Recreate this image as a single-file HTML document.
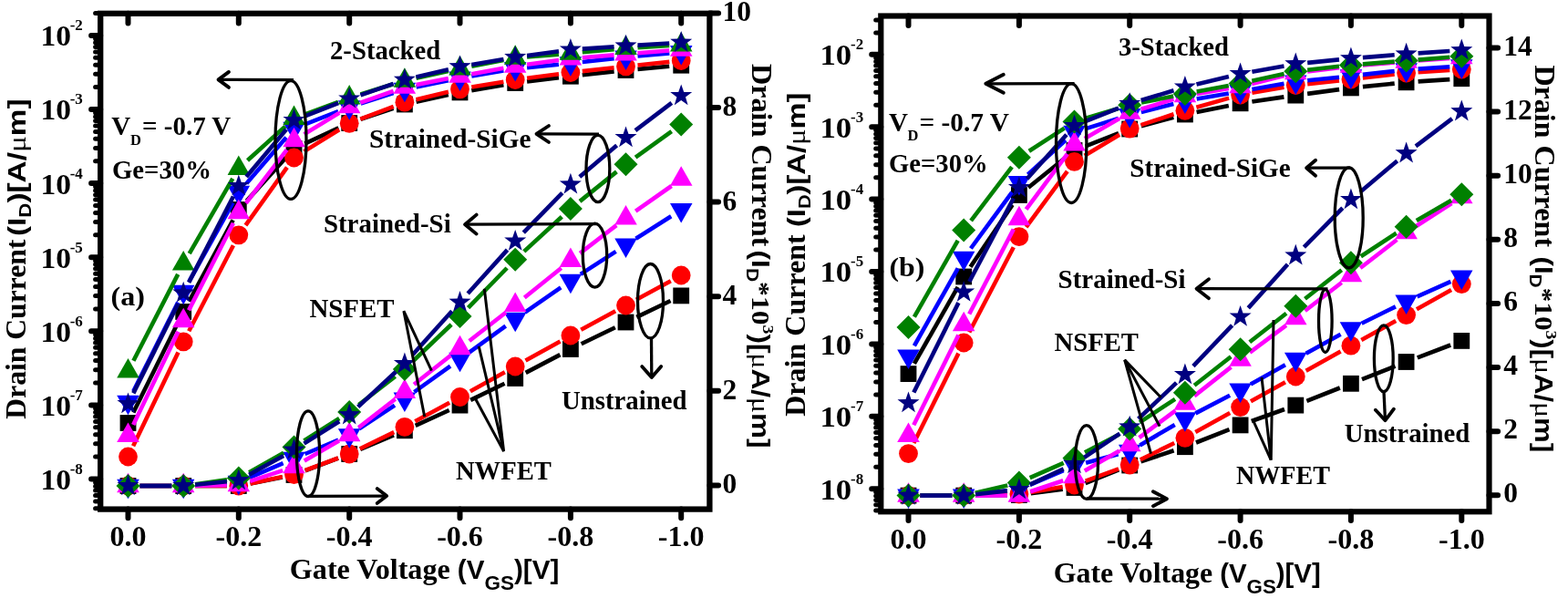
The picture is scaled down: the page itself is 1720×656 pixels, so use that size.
<!DOCTYPE html>
<html><head><meta charset="utf-8"><style>
html,body{margin:0;padding:0;background:#fff;}
svg{display:block;}
</style></head><body>
<svg width="1720" height="656" viewBox="0 0 1720 656">
<rect width="1720" height="656" fill="#fff"/>
<line x1="146.3" y1="452.4" x2="195.4" y2="353.6" stroke="#000000" stroke-width="4.6"/>
<line x1="207.4" y1="330.6" x2="255.6" y2="241.4" stroke="#000000" stroke-width="4.6"/>
<line x1="270.6" y1="220.4" x2="313.8" y2="172.6" stroke="#000000" stroke-width="4.6"/>
<line x1="334.3" y1="157.6" x2="371.4" y2="140.4" stroke="#000000" stroke-width="4.6"/>
<line x1="395.5" y1="130.8" x2="431.5" y2="118.7" stroke="#000000" stroke-width="4.6"/>
<line x1="456.6" y1="111.8" x2="491.8" y2="104.1" stroke="#000000" stroke-width="4.6"/>
<line x1="517.3" y1="99.2" x2="552.4" y2="93.2" stroke="#000000" stroke-width="4.6"/>
<line x1="578.1" y1="89.4" x2="613" y2="85.3" stroke="#000000" stroke-width="4.6"/>
<line x1="638.8" y1="82.3" x2="673.6" y2="78.4" stroke="#000000" stroke-width="4.6"/>
<line x1="699.5" y1="75.9" x2="734.2" y2="72.8" stroke="#000000" stroke-width="4.6"/>
<rect x="131.6" y="455.1" width="17.8" height="17.8" fill="#000000"/>
<rect x="192.3" y="333.1" width="17.8" height="17.8" fill="#000000"/>
<rect x="252.9" y="221.1" width="17.8" height="17.8" fill="#000000"/>
<rect x="313.6" y="154.1" width="17.8" height="17.8" fill="#000000"/>
<rect x="374.3" y="126.1" width="17.8" height="17.8" fill="#000000"/>
<rect x="435" y="105.6" width="17.8" height="17.8" fill="#000000"/>
<rect x="495.6" y="92.5" width="17.8" height="17.8" fill="#000000"/>
<rect x="556.3" y="82.1" width="17.8" height="17.8" fill="#000000"/>
<rect x="617" y="74.8" width="17.8" height="17.8" fill="#000000"/>
<rect x="677.6" y="68.1" width="17.8" height="17.8" fill="#000000"/>
<rect x="738.3" y="62.8" width="17.8" height="17.8" fill="#000000"/>
<line x1="146.1" y1="489.3" x2="195.5" y2="386.5" stroke="#ff0000" stroke-width="4.6"/>
<line x1="207.2" y1="363.3" x2="255.9" y2="269.3" stroke="#ff0000" stroke-width="4.6"/>
<line x1="269.4" y1="247.2" x2="314.9" y2="183.6" stroke="#ff0000" stroke-width="4.6"/>
<line x1="333.6" y1="166.1" x2="372.1" y2="142.2" stroke="#ff0000" stroke-width="4.6"/>
<line x1="395.3" y1="130.7" x2="431.7" y2="116.8" stroke="#ff0000" stroke-width="4.6"/>
<line x1="456.5" y1="109.2" x2="491.9" y2="100.8" stroke="#ff0000" stroke-width="4.6"/>
<line x1="517.3" y1="95.6" x2="552.4" y2="89.7" stroke="#ff0000" stroke-width="4.6"/>
<line x1="578.1" y1="85.8" x2="613" y2="81.2" stroke="#ff0000" stroke-width="4.6"/>
<line x1="638.8" y1="78.1" x2="673.6" y2="74.3" stroke="#ff0000" stroke-width="4.6"/>
<line x1="699.5" y1="71.5" x2="734.3" y2="67.9" stroke="#ff0000" stroke-width="4.6"/>
<circle cx="140.5" cy="501" r="10.4" fill="#ff0000"/>
<circle cx="201.2" cy="374.8" r="10.4" fill="#ff0000"/>
<circle cx="261.8" cy="257.8" r="10.4" fill="#ff0000"/>
<circle cx="322.5" cy="173" r="10.4" fill="#ff0000"/>
<circle cx="383.2" cy="135.3" r="10.4" fill="#ff0000"/>
<circle cx="443.9" cy="112.2" r="10.4" fill="#ff0000"/>
<circle cx="504.5" cy="97.8" r="10.4" fill="#ff0000"/>
<circle cx="565.2" cy="87.5" r="10.4" fill="#ff0000"/>
<circle cx="625.9" cy="79.5" r="10.4" fill="#ff0000"/>
<circle cx="686.5" cy="72.9" r="10.4" fill="#ff0000"/>
<circle cx="747.2" cy="66.5" r="10.4" fill="#ff0000"/>
<line x1="146.3" y1="429.4" x2="195.3" y2="331.6" stroke="#0000ff" stroke-width="4.6"/>
<line x1="207.5" y1="308.6" x2="255.5" y2="222.4" stroke="#0000ff" stroke-width="4.6"/>
<line x1="270.4" y1="201.2" x2="314" y2="150.8" stroke="#0000ff" stroke-width="4.6"/>
<line x1="334.6" y1="136.3" x2="371.1" y2="122.2" stroke="#0000ff" stroke-width="4.6"/>
<line x1="395.6" y1="113.5" x2="431.5" y2="102" stroke="#0000ff" stroke-width="4.6"/>
<line x1="456.6" y1="95.4" x2="491.8" y2="88.3" stroke="#0000ff" stroke-width="4.6"/>
<line x1="517.3" y1="83.5" x2="552.4" y2="77.5" stroke="#0000ff" stroke-width="4.6"/>
<line x1="578.1" y1="74.1" x2="612.9" y2="70.7" stroke="#0000ff" stroke-width="4.6"/>
<line x1="638.8" y1="68" x2="673.6" y2="64.1" stroke="#0000ff" stroke-width="4.6"/>
<line x1="699.5" y1="61.4" x2="734.3" y2="58.4" stroke="#0000ff" stroke-width="4.6"/>
<polygon points="128.2,433.8 152.8,433.8 140.5,455.3" fill="#0000ff"/>
<polygon points="188.9,312.8 213.4,312.8 201.2,334.3" fill="#0000ff"/>
<polygon points="249.6,203.8 274.1,203.8 261.8,225.3" fill="#0000ff"/>
<polygon points="310.3,133.8 334.8,133.8 322.5,155.3" fill="#0000ff"/>
<polygon points="370.9,110.3 395.4,110.3 383.2,131.8" fill="#0000ff"/>
<polygon points="431.6,90.8 456.1,90.8 443.9,112.3" fill="#0000ff"/>
<polygon points="492.3,78.5 516.8,78.5 504.5,100" fill="#0000ff"/>
<polygon points="552.9,68.1 577.4,68.1 565.2,89.6" fill="#0000ff"/>
<polygon points="613.6,62.3 638.1,62.3 625.9,83.8" fill="#0000ff"/>
<polygon points="674.3,55.4 698.8,55.4 686.5,76.9" fill="#0000ff"/>
<polygon points="735,50 759.5,50 747.2,71.5" fill="#0000ff"/>
<line x1="146.2" y1="466" x2="195.5" y2="363.7" stroke="#ff00ff" stroke-width="4.6"/>
<line x1="207.1" y1="340.4" x2="255.9" y2="244.7" stroke="#ff00ff" stroke-width="4.6"/>
<line x1="269.8" y1="222.8" x2="314.6" y2="164.3" stroke="#ff00ff" stroke-width="4.6"/>
<line x1="333.6" y1="147.2" x2="372.1" y2="123.9" stroke="#ff00ff" stroke-width="4.6"/>
<line x1="395.4" y1="112.7" x2="431.6" y2="99.9" stroke="#ff00ff" stroke-width="4.6"/>
<line x1="456.6" y1="93" x2="491.8" y2="86" stroke="#ff00ff" stroke-width="4.6"/>
<line x1="517.3" y1="81.2" x2="552.4" y2="74.8" stroke="#ff00ff" stroke-width="4.6"/>
<line x1="578.1" y1="70.8" x2="613" y2="66" stroke="#ff00ff" stroke-width="4.6"/>
<line x1="638.8" y1="63.2" x2="673.6" y2="60.4" stroke="#ff00ff" stroke-width="4.6"/>
<line x1="699.5" y1="58.3" x2="734.2" y2="55.5" stroke="#ff00ff" stroke-width="4.6"/>
<polygon points="140.5,463.4 152.8,484.9 128.2,484.9" fill="#ff00ff"/>
<polygon points="201.2,337.7 213.4,359.2 188.9,359.2" fill="#ff00ff"/>
<polygon points="261.8,218.8 274.1,240.3 249.6,240.3" fill="#ff00ff"/>
<polygon points="322.5,139.7 334.8,161.2 310.3,161.2" fill="#ff00ff"/>
<polygon points="383.2,102.8 395.4,124.3 370.9,124.3" fill="#ff00ff"/>
<polygon points="443.9,81.2 456.1,102.7 431.6,102.7" fill="#ff00ff"/>
<polygon points="504.5,69.2 516.8,90.7 492.3,90.7" fill="#ff00ff"/>
<polygon points="565.2,58.2 577.4,79.7 552.9,79.7" fill="#ff00ff"/>
<polygon points="625.9,50 638.1,71.5 613.6,71.5" fill="#ff00ff"/>
<polygon points="686.5,45 698.8,66.5 674.3,66.5" fill="#ff00ff"/>
<polygon points="747.2,40.2 759.5,61.7 735,61.7" fill="#ff00ff"/>
<line x1="146.4" y1="395.8" x2="195.2" y2="300.9" stroke="#008000" stroke-width="4.6"/>
<line x1="207.7" y1="278.1" x2="255.3" y2="195.9" stroke="#008000" stroke-width="4.6"/>
<line x1="271.5" y1="176" x2="312.9" y2="138.6" stroke="#008000" stroke-width="4.6"/>
<line x1="334.7" y1="125.4" x2="371" y2="111.8" stroke="#008000" stroke-width="4.6"/>
<line x1="395.6" y1="103.5" x2="431.4" y2="92.3" stroke="#008000" stroke-width="4.6"/>
<line x1="456.5" y1="85.7" x2="491.8" y2="78" stroke="#008000" stroke-width="4.6"/>
<line x1="517.3" y1="72.8" x2="552.4" y2="66" stroke="#008000" stroke-width="4.6"/>
<line x1="578.1" y1="62.5" x2="612.9" y2="59.6" stroke="#008000" stroke-width="4.6"/>
<line x1="638.8" y1="57.3" x2="673.6" y2="54.1" stroke="#008000" stroke-width="4.6"/>
<line x1="699.5" y1="52.1" x2="734.2" y2="50" stroke="#008000" stroke-width="4.6"/>
<polygon points="140.5,393.1 152.8,414.6 128.2,414.6" fill="#008000"/>
<polygon points="201.2,275 213.4,296.5 188.9,296.5" fill="#008000"/>
<polygon points="261.8,170.4 274.1,191.9 249.6,191.9" fill="#008000"/>
<polygon points="322.5,115.6 334.8,137.1 310.3,137.1" fill="#008000"/>
<polygon points="383.2,93 395.4,114.5 370.9,114.5" fill="#008000"/>
<polygon points="443.9,74.2 456.1,95.7 431.6,95.7" fill="#008000"/>
<polygon points="504.5,60.9 516.8,82.4 492.3,82.4" fill="#008000"/>
<polygon points="565.2,49.3 577.4,70.8 552.9,70.8" fill="#008000"/>
<polygon points="625.9,44.2 638.1,65.7 613.6,65.7" fill="#008000"/>
<polygon points="686.5,38.6 698.8,60.1 674.3,60.1" fill="#008000"/>
<polygon points="747.2,34.9 759.5,56.4 735,56.4" fill="#008000"/>
<line x1="146.3" y1="431.4" x2="195.4" y2="333" stroke="#000080" stroke-width="4.6"/>
<line x1="207.1" y1="309.9" x2="255.9" y2="215.5" stroke="#000080" stroke-width="4.6"/>
<line x1="270.2" y1="194.1" x2="314.1" y2="141.9" stroke="#000080" stroke-width="4.6"/>
<line x1="334.6" y1="127.3" x2="371.1" y2="113.2" stroke="#000080" stroke-width="4.6"/>
<line x1="395.5" y1="104.3" x2="431.6" y2="91.8" stroke="#000080" stroke-width="4.6"/>
<line x1="456.5" y1="84.6" x2="491.9" y2="76.2" stroke="#000080" stroke-width="4.6"/>
<line x1="517.3" y1="71" x2="552.4" y2="65.1" stroke="#000080" stroke-width="4.6"/>
<line x1="578.1" y1="61.1" x2="613" y2="56.3" stroke="#000080" stroke-width="4.6"/>
<line x1="638.8" y1="53.6" x2="673.6" y2="51.3" stroke="#000080" stroke-width="4.6"/>
<line x1="699.5" y1="49.6" x2="734.2" y2="47.5" stroke="#000080" stroke-width="4.6"/>
<polygon points="140.5,430.4 143.5,438.9 152.5,439.1 145.3,444.6 147.9,453.2 140.5,448 133.1,453.2 135.7,444.6 128.5,439.1 137.5,438.9" fill="#000080"/>
<polygon points="201.2,308.8 204.1,317.3 213.2,317.5 206,323 208.6,331.6 201.2,326.4 193.8,331.6 196.4,323 189.2,317.5 198.2,317.3" fill="#000080"/>
<polygon points="261.8,191.4 264.8,199.9 273.8,200.1 266.6,205.6 269.2,214.2 261.8,209 254.4,214.2 257,205.6 249.9,200.1 258.9,199.9" fill="#000080"/>
<polygon points="322.5,119.4 325.5,127.9 334.5,128.1 327.3,133.6 329.9,142.2 322.5,137 315.1,142.2 317.7,133.6 310.5,128.1 319.5,127.9" fill="#000080"/>
<polygon points="383.2,95.9 386.1,104.4 395.2,104.6 388,110.1 390.6,118.7 383.2,113.5 375.8,118.7 378.4,110.1 371.2,104.6 380.2,104.4" fill="#000080"/>
<polygon points="443.9,75 446.8,83.5 455.8,83.7 448.6,89.2 451.3,97.8 443.9,92.6 436.4,97.8 439.1,89.2 431.9,83.7 440.9,83.5" fill="#000080"/>
<polygon points="504.5,60.6 507.5,69.1 516.5,69.3 509.3,74.8 511.9,83.4 504.5,78.2 497.1,83.4 499.7,74.8 492.5,69.3 501.6,69.1" fill="#000080"/>
<polygon points="565.2,50.3 568.2,58.8 577.2,59 570,64.5 572.6,73.1 565.2,67.9 557.8,73.1 560.4,64.5 553.2,59 562.2,58.8" fill="#000080"/>
<polygon points="625.9,41.9 628.8,50.4 637.8,50.6 630.7,56.1 633.3,64.7 625.9,59.5 618.5,64.7 621.1,56.1 613.9,50.6 622.9,50.4" fill="#000080"/>
<polygon points="686.5,37.8 689.5,46.3 698.5,46.5 691.3,52 693.9,60.6 686.5,55.4 679.1,60.6 681.7,52 674.5,46.5 683.6,46.3" fill="#000080"/>
<polygon points="747.2,34.1 750.2,42.6 759.2,42.8 752,48.3 754.6,56.9 747.2,51.7 739.8,56.9 742.4,48.3 735.2,42.8 744.2,42.6" fill="#000080"/>
<line x1="153.5" y1="533" x2="188.2" y2="533" stroke="#000000" stroke-width="4.6"/>
<line x1="214.2" y1="533" x2="248.8" y2="533" stroke="#000000" stroke-width="4.6"/>
<line x1="274.6" y1="530.5" x2="309.8" y2="523.5" stroke="#000000" stroke-width="4.6"/>
<line x1="334.7" y1="516.4" x2="371" y2="502.6" stroke="#000000" stroke-width="4.6"/>
<line x1="395.2" y1="492.9" x2="431.9" y2="477.4" stroke="#000000" stroke-width="4.6"/>
<line x1="455.7" y1="466.9" x2="492.7" y2="450" stroke="#000000" stroke-width="4.6"/>
<line x1="516.2" y1="438.9" x2="553.5" y2="420.7" stroke="#000000" stroke-width="4.6"/>
<line x1="576.7" y1="408.9" x2="614.4" y2="389.1" stroke="#000000" stroke-width="4.6"/>
<line x1="637.6" y1="377.3" x2="674.8" y2="359.2" stroke="#000000" stroke-width="4.6"/>
<line x1="698.3" y1="347.9" x2="735.5" y2="330" stroke="#000000" stroke-width="4.6"/>
<rect x="131.6" y="524.1" width="17.8" height="17.8" fill="#000000"/>
<rect x="192.3" y="524.1" width="17.8" height="17.8" fill="#000000"/>
<rect x="252.9" y="524.1" width="17.8" height="17.8" fill="#000000"/>
<rect x="313.6" y="512.1" width="17.8" height="17.8" fill="#000000"/>
<rect x="374.3" y="489.1" width="17.8" height="17.8" fill="#000000"/>
<rect x="435" y="463.4" width="17.8" height="17.8" fill="#000000"/>
<rect x="495.6" y="435.7" width="17.8" height="17.8" fill="#000000"/>
<rect x="556.3" y="406.1" width="17.8" height="17.8" fill="#000000"/>
<rect x="617" y="374.1" width="17.8" height="17.8" fill="#000000"/>
<rect x="677.6" y="344.6" width="17.8" height="17.8" fill="#000000"/>
<rect x="738.3" y="315.5" width="17.8" height="17.8" fill="#000000"/>
<line x1="153.5" y1="533" x2="188.2" y2="533" stroke="#ff0000" stroke-width="4.6"/>
<line x1="214.2" y1="533" x2="248.8" y2="533" stroke="#ff0000" stroke-width="4.6"/>
<line x1="274.6" y1="530.4" x2="309.8" y2="523.1" stroke="#ff0000" stroke-width="4.6"/>
<line x1="334.7" y1="516" x2="371" y2="502.5" stroke="#ff0000" stroke-width="4.6"/>
<line x1="394.9" y1="492.3" x2="432.2" y2="474.1" stroke="#ff0000" stroke-width="4.6"/>
<line x1="455.3" y1="462.2" x2="493.1" y2="441.7" stroke="#ff0000" stroke-width="4.6"/>
<line x1="515.9" y1="429.2" x2="553.8" y2="408.3" stroke="#ff0000" stroke-width="4.6"/>
<line x1="576.5" y1="395.6" x2="614.5" y2="374.4" stroke="#ff0000" stroke-width="4.6"/>
<line x1="637.3" y1="361.8" x2="675.1" y2="341.2" stroke="#ff0000" stroke-width="4.6"/>
<line x1="697.9" y1="328.8" x2="735.8" y2="308.2" stroke="#ff0000" stroke-width="4.6"/>
<circle cx="140.5" cy="533" r="10.4" fill="#ff0000"/>
<circle cx="201.2" cy="533" r="10.4" fill="#ff0000"/>
<circle cx="261.8" cy="533" r="10.4" fill="#ff0000"/>
<circle cx="322.5" cy="520.5" r="10.4" fill="#ff0000"/>
<circle cx="383.2" cy="498" r="10.4" fill="#ff0000"/>
<circle cx="443.9" cy="468.4" r="10.4" fill="#ff0000"/>
<circle cx="504.5" cy="435.5" r="10.4" fill="#ff0000"/>
<circle cx="565.2" cy="402" r="10.4" fill="#ff0000"/>
<circle cx="625.9" cy="368" r="10.4" fill="#ff0000"/>
<circle cx="686.5" cy="335" r="10.4" fill="#ff0000"/>
<circle cx="747.2" cy="302" r="10.4" fill="#ff0000"/>
<line x1="153.5" y1="533" x2="188.2" y2="533" stroke="#0000ff" stroke-width="4.6"/>
<line x1="214.1" y1="532.1" x2="248.9" y2="529.9" stroke="#0000ff" stroke-width="4.6"/>
<line x1="273.8" y1="523.9" x2="310.6" y2="508.1" stroke="#0000ff" stroke-width="4.6"/>
<line x1="334.5" y1="498" x2="371.2" y2="482.5" stroke="#0000ff" stroke-width="4.6"/>
<line x1="394" y1="470.4" x2="433" y2="444.7" stroke="#0000ff" stroke-width="4.6"/>
<line x1="454.4" y1="430" x2="494" y2="401.6" stroke="#0000ff" stroke-width="4.6"/>
<line x1="515" y1="386.4" x2="554.7" y2="357.6" stroke="#0000ff" stroke-width="4.6"/>
<line x1="575.9" y1="342.6" x2="615.2" y2="315.4" stroke="#0000ff" stroke-width="4.6"/>
<line x1="636.8" y1="300.9" x2="675.6" y2="275.9" stroke="#0000ff" stroke-width="4.6"/>
<line x1="697.5" y1="261.8" x2="736.2" y2="237.3" stroke="#0000ff" stroke-width="4.6"/>
<polygon points="128.2,525.8 152.8,525.8 140.5,547.3" fill="#0000ff"/>
<polygon points="188.9,525.8 213.4,525.8 201.2,547.3" fill="#0000ff"/>
<polygon points="249.6,521.8 274.1,521.8 261.8,543.3" fill="#0000ff"/>
<polygon points="310.3,495.8 334.8,495.8 322.5,517.3" fill="#0000ff"/>
<polygon points="370.9,470.3 395.4,470.3 383.2,491.8" fill="#0000ff"/>
<polygon points="431.6,430.4 456.1,430.4 443.9,451.9" fill="#0000ff"/>
<polygon points="492.3,386.8 516.8,386.8 504.5,408.3" fill="#0000ff"/>
<polygon points="552.9,342.8 577.4,342.8 565.2,364.3" fill="#0000ff"/>
<polygon points="613.6,300.8 638.1,300.8 625.9,322.3" fill="#0000ff"/>
<polygon points="674.3,261.6 698.8,261.6 686.5,283.1" fill="#0000ff"/>
<polygon points="735,223.1 759.5,223.1 747.2,244.6" fill="#0000ff"/>
<line x1="153.5" y1="533" x2="188.2" y2="533" stroke="#ff00ff" stroke-width="4.6"/>
<line x1="214.2" y1="532.8" x2="248.8" y2="532.2" stroke="#ff00ff" stroke-width="4.6"/>
<line x1="274.2" y1="527.9" x2="310.2" y2="516.1" stroke="#ff00ff" stroke-width="4.6"/>
<line x1="333.8" y1="505.5" x2="371.9" y2="483.5" stroke="#ff00ff" stroke-width="4.6"/>
<line x1="393.4" y1="469" x2="433.6" y2="437.8" stroke="#ff00ff" stroke-width="4.6"/>
<line x1="454.1" y1="421.8" x2="494.3" y2="390" stroke="#ff00ff" stroke-width="4.6"/>
<line x1="514.8" y1="374" x2="554.9" y2="342.7" stroke="#ff00ff" stroke-width="4.6"/>
<line x1="575.3" y1="326.5" x2="615.7" y2="294" stroke="#ff00ff" stroke-width="4.6"/>
<line x1="636.2" y1="277.9" x2="676.2" y2="247.1" stroke="#ff00ff" stroke-width="4.6"/>
<line x1="697.2" y1="231.7" x2="736.6" y2="204" stroke="#ff00ff" stroke-width="4.6"/>
<polygon points="140.5,518.7 152.8,540.2 128.2,540.2" fill="#ff00ff"/>
<polygon points="201.2,518.7 213.4,540.2 188.9,540.2" fill="#ff00ff"/>
<polygon points="261.8,517.7 274.1,539.2 249.6,539.2" fill="#ff00ff"/>
<polygon points="322.5,497.7 334.8,519.2 310.3,519.2" fill="#ff00ff"/>
<polygon points="383.2,462.7 395.4,484.2 370.9,484.2" fill="#ff00ff"/>
<polygon points="443.9,415.5 456.1,437 431.6,437" fill="#ff00ff"/>
<polygon points="504.5,367.7 516.8,389.2 492.3,389.2" fill="#ff00ff"/>
<polygon points="565.2,320.4 577.4,341.9 552.9,341.9" fill="#ff00ff"/>
<polygon points="625.9,271.5 638.1,293 613.6,293" fill="#ff00ff"/>
<polygon points="686.5,224.9 698.8,246.4 674.3,246.4" fill="#ff00ff"/>
<polygon points="747.2,182.2 759.5,203.7 735,203.7" fill="#ff00ff"/>
<line x1="153.5" y1="533" x2="188.2" y2="533" stroke="#008000" stroke-width="4.6"/>
<line x1="214" y1="531.2" x2="249" y2="526.4" stroke="#008000" stroke-width="4.6"/>
<line x1="273.2" y1="518.2" x2="311.2" y2="496.8" stroke="#008000" stroke-width="4.6"/>
<line x1="333.5" y1="483.4" x2="372.2" y2="459" stroke="#008000" stroke-width="4.6"/>
<line x1="393.5" y1="444" x2="433.6" y2="413" stroke="#008000" stroke-width="4.6"/>
<line x1="453.2" y1="396" x2="495.1" y2="356" stroke="#008000" stroke-width="4.6"/>
<line x1="513.6" y1="337.7" x2="556.1" y2="294" stroke="#008000" stroke-width="4.6"/>
<line x1="574.8" y1="275.9" x2="616.3" y2="237.8" stroke="#008000" stroke-width="4.6"/>
<line x1="636" y1="220.9" x2="676.4" y2="188.4" stroke="#008000" stroke-width="4.6"/>
<line x1="697.1" y1="172.7" x2="736.7" y2="144.1" stroke="#008000" stroke-width="4.6"/>
<polygon points="140.5,520 153.5,533 140.5,546 127.5,533" fill="#008000"/>
<polygon points="201.2,520 214.2,533 201.2,546 188.2,533" fill="#008000"/>
<polygon points="261.8,511.6 274.8,524.6 261.8,537.6 248.8,524.6" fill="#008000"/>
<polygon points="322.5,477.4 335.5,490.4 322.5,503.4 309.5,490.4" fill="#008000"/>
<polygon points="383.2,439 396.2,452 383.2,465 370.2,452" fill="#008000"/>
<polygon points="443.9,392 456.9,405 443.9,418 430.9,405" fill="#008000"/>
<polygon points="504.5,334 517.5,347 504.5,360 491.5,347" fill="#008000"/>
<polygon points="565.2,271.7 578.2,284.7 565.2,297.7 552.2,284.7" fill="#008000"/>
<polygon points="625.9,216 638.9,229 625.9,242 612.9,229" fill="#008000"/>
<polygon points="686.5,167.3 699.5,180.3 686.5,193.3 673.5,180.3" fill="#008000"/>
<polygon points="747.2,123.5 760.2,136.5 747.2,149.5 734.2,136.5" fill="#008000"/>
<line x1="153.5" y1="533" x2="188.2" y2="533" stroke="#000080" stroke-width="4.6"/>
<line x1="214.1" y1="531.7" x2="248.9" y2="528.3" stroke="#000080" stroke-width="4.6"/>
<line x1="273.2" y1="520.7" x2="311.1" y2="499.9" stroke="#000080" stroke-width="4.6"/>
<line x1="333.5" y1="486.6" x2="372.2" y2="462.2" stroke="#000080" stroke-width="4.6"/>
<line x1="392.7" y1="446.4" x2="434.3" y2="407.8" stroke="#000080" stroke-width="4.6"/>
<line x1="452.5" y1="389.3" x2="495.8" y2="341.3" stroke="#000080" stroke-width="4.6"/>
<line x1="513.2" y1="322" x2="556.5" y2="274.1" stroke="#000080" stroke-width="4.6"/>
<line x1="574.3" y1="255.2" x2="616.8" y2="211.6" stroke="#000080" stroke-width="4.6"/>
<line x1="635.8" y1="193.9" x2="676.6" y2="159.4" stroke="#000080" stroke-width="4.6"/>
<line x1="696.9" y1="143.1" x2="736.8" y2="112.9" stroke="#000080" stroke-width="4.6"/>
<polygon points="140.5,520.4 143.5,528.9 152.5,529.1 145.3,534.6 147.9,543.2 140.5,538 133.1,543.2 135.7,534.6 128.5,529.1 137.5,528.9" fill="#000080"/>
<polygon points="201.2,520.4 204.1,528.9 213.2,529.1 206,534.6 208.6,543.2 201.2,538 193.8,543.2 196.4,534.6 189.2,529.1 198.2,528.9" fill="#000080"/>
<polygon points="261.8,514.4 264.8,522.9 273.8,523.1 266.6,528.6 269.2,537.2 261.8,532 254.4,537.2 257,528.6 249.9,523.1 258.9,522.9" fill="#000080"/>
<polygon points="322.5,481 325.5,489.5 334.5,489.7 327.3,495.2 329.9,503.8 322.5,498.6 315.1,503.8 317.7,495.2 310.5,489.7 319.5,489.5" fill="#000080"/>
<polygon points="383.2,442.6 386.1,451.1 395.2,451.3 388,456.8 390.6,465.4 383.2,460.2 375.8,465.4 378.4,456.8 371.2,451.3 380.2,451.1" fill="#000080"/>
<polygon points="443.9,386.4 446.8,394.9 455.8,395.1 448.6,400.6 451.3,409.2 443.9,404 436.4,409.2 439.1,400.6 431.9,395.1 440.9,394.9" fill="#000080"/>
<polygon points="504.5,319 507.5,327.5 516.5,327.7 509.3,333.2 511.9,341.8 504.5,336.6 497.1,341.8 499.7,333.2 492.5,327.7 501.6,327.5" fill="#000080"/>
<polygon points="565.2,251.9 568.2,260.4 577.2,260.6 570,266.1 572.6,274.7 565.2,269.5 557.8,274.7 560.4,266.1 553.2,260.6 562.2,260.4" fill="#000080"/>
<polygon points="625.9,189.7 628.8,198.2 637.8,198.4 630.7,203.9 633.3,212.5 625.9,207.3 618.5,212.5 621.1,203.9 613.9,198.4 622.9,198.2" fill="#000080"/>
<polygon points="686.5,138.4 689.5,146.9 698.5,147.1 691.3,152.6 693.9,161.2 686.5,156 679.1,161.2 681.7,152.6 674.5,147.1 683.6,146.9" fill="#000080"/>
<polygon points="747.2,92.4 750.2,100.9 759.2,101.1 752,106.6 754.6,115.2 747.2,110 739.8,115.2 742.4,106.6 735.2,101.1 744.2,100.9" fill="#000080"/>
<rect x="110.2" y="14.8" width="668.2" height="543.8" fill="none" stroke="#000" stroke-width="6.3"/>
<path d="M140.5,14.8V25.4M140.5,558.6V568.2M261.8,14.8V25.4M261.8,558.6V568.2M383.2,14.8V25.4M383.2,558.6V568.2M504.5,14.8V25.4M504.5,558.6V568.2M625.9,14.8V25.4M625.9,558.6V568.2M747.2,14.8V25.4M747.2,558.6V568.2M110.2,525.5H100.1M110.2,444.4H100.1M110.2,363.3H100.1M110.2,282.2H100.1M110.2,201.1H100.1M110.2,120H100.1M110.2,38.9H100.1M778.5,532.4H788.1M778.5,428.8H788.1M778.5,325.2H788.1M778.5,221.6H788.1M778.5,118H788.1M778.5,14.4H788.1" stroke="#000" stroke-width="6" fill="none" stroke-linecap="round"/>
<path d="M110.2,557.8H104.6M110.2,549.9H104.6M110.2,543.5H104.6M110.2,538.1H104.6M110.2,533.4H104.6M110.2,529.2H104.6M110.2,501.1H104.6M110.2,486.8H104.6M110.2,476.7H104.6M110.2,468.8H104.6M110.2,462.4H104.6M110.2,457H104.6M110.2,452.3H104.6M110.2,448.1H104.6M110.2,420H104.6M110.2,405.7H104.6M110.2,395.6H104.6M110.2,387.7H104.6M110.2,381.3H104.6M110.2,375.9H104.6M110.2,371.2H104.6M110.2,367H104.6M110.2,338.9H104.6M110.2,324.6H104.6M110.2,314.5H104.6M110.2,306.6H104.6M110.2,300.2H104.6M110.2,294.8H104.6M110.2,290.1H104.6M110.2,285.9H104.6M110.2,257.8H104.6M110.2,243.5H104.6M110.2,233.4H104.6M110.2,225.5H104.6M110.2,219.1H104.6M110.2,213.7H104.6M110.2,209H104.6M110.2,204.8H104.6M110.2,176.7H104.6M110.2,162.4H104.6M110.2,152.3H104.6M110.2,144.4H104.6M110.2,138H104.6M110.2,132.6H104.6M110.2,127.9H104.6M110.2,123.7H104.6M110.2,95.6H104.6M110.2,81.3H104.6M110.2,71.2H104.6M110.2,63.3H104.6M110.2,56.9H104.6M110.2,51.5H104.6M110.2,46.8H104.6M110.2,42.6H104.6M110.2,14.5H104.6" stroke="#000" stroke-width="5" fill="none" stroke-linecap="round"/>
<line x1="1002.9" y1="398.8" x2="1050.7" y2="314.8" stroke="#000000" stroke-width="4.6"/>
<line x1="1064.5" y1="292.7" x2="1110.6" y2="224.8" stroke="#000000" stroke-width="4.6"/>
<line x1="1128" y1="205.8" x2="1168.4" y2="173.2" stroke="#000000" stroke-width="4.6"/>
<line x1="1190.7" y1="160.3" x2="1227.1" y2="146.2" stroke="#000000" stroke-width="4.6"/>
<line x1="1251.8" y1="138.2" x2="1287.3" y2="128.8" stroke="#000000" stroke-width="4.6"/>
<line x1="1312.6" y1="122.9" x2="1347.8" y2="115.9" stroke="#000000" stroke-width="4.6"/>
<line x1="1373.4" y1="111.5" x2="1408.4" y2="106.4" stroke="#000000" stroke-width="4.6"/>
<line x1="1434.1" y1="102.9" x2="1469.1" y2="98.1" stroke="#000000" stroke-width="4.6"/>
<line x1="1494.9" y1="95.1" x2="1529.7" y2="91.6" stroke="#000000" stroke-width="4.6"/>
<line x1="1555.6" y1="89.4" x2="1590.3" y2="87.1" stroke="#000000" stroke-width="4.6"/>
<rect x="987.6" y="401.2" width="17.8" height="17.8" fill="#000000"/>
<rect x="1048.3" y="294.6" width="17.8" height="17.8" fill="#000000"/>
<rect x="1109" y="205.1" width="17.8" height="17.8" fill="#000000"/>
<rect x="1169.6" y="156.1" width="17.8" height="17.8" fill="#000000"/>
<rect x="1230.3" y="132.6" width="17.8" height="17.8" fill="#000000"/>
<rect x="1291" y="116.6" width="17.8" height="17.8" fill="#000000"/>
<rect x="1351.7" y="104.4" width="17.8" height="17.8" fill="#000000"/>
<rect x="1412.4" y="95.7" width="17.8" height="17.8" fill="#000000"/>
<rect x="1473" y="87.5" width="17.8" height="17.8" fill="#000000"/>
<rect x="1533.7" y="81.4" width="17.8" height="17.8" fill="#000000"/>
<rect x="1594.4" y="77.3" width="17.8" height="17.8" fill="#000000"/>
<line x1="1002.3" y1="486" x2="1051.4" y2="387.6" stroke="#ff0000" stroke-width="4.6"/>
<line x1="1063.2" y1="364.5" x2="1111.8" y2="271.2" stroke="#ff0000" stroke-width="4.6"/>
<line x1="1125.6" y1="249.2" x2="1170.8" y2="187.9" stroke="#ff0000" stroke-width="4.6"/>
<line x1="1189.7" y1="170.7" x2="1228.1" y2="147.8" stroke="#ff0000" stroke-width="4.6"/>
<line x1="1251.6" y1="137.1" x2="1287.5" y2="125.3" stroke="#ff0000" stroke-width="4.6"/>
<line x1="1312.4" y1="117.7" x2="1348.1" y2="107.6" stroke="#ff0000" stroke-width="4.6"/>
<line x1="1373.4" y1="101.8" x2="1408.5" y2="95.7" stroke="#ff0000" stroke-width="4.6"/>
<line x1="1434.2" y1="92.1" x2="1469" y2="88.4" stroke="#ff0000" stroke-width="4.6"/>
<line x1="1494.9" y1="85.5" x2="1529.7" y2="81.5" stroke="#ff0000" stroke-width="4.6"/>
<line x1="1555.6" y1="79.1" x2="1590.3" y2="76.9" stroke="#ff0000" stroke-width="4.6"/>
<circle cx="996.5" cy="497.6" r="10.4" fill="#ff0000"/>
<circle cx="1057.2" cy="376" r="10.4" fill="#ff0000"/>
<circle cx="1117.9" cy="259.7" r="10.4" fill="#ff0000"/>
<circle cx="1178.5" cy="177.4" r="10.4" fill="#ff0000"/>
<circle cx="1239.2" cy="141.1" r="10.4" fill="#ff0000"/>
<circle cx="1299.9" cy="121.3" r="10.4" fill="#ff0000"/>
<circle cx="1360.6" cy="104" r="10.4" fill="#ff0000"/>
<circle cx="1421.3" cy="93.5" r="10.4" fill="#ff0000"/>
<circle cx="1481.9" cy="87" r="10.4" fill="#ff0000"/>
<circle cx="1542.6" cy="80" r="10.4" fill="#ff0000"/>
<circle cx="1603.3" cy="76" r="10.4" fill="#ff0000"/>
<line x1="1002.9" y1="379.3" x2="1050.8" y2="294.3" stroke="#0000ff" stroke-width="4.6"/>
<line x1="1064.9" y1="272.5" x2="1110.2" y2="210.8" stroke="#0000ff" stroke-width="4.6"/>
<line x1="1127.5" y1="191.5" x2="1168.9" y2="153.8" stroke="#0000ff" stroke-width="4.6"/>
<line x1="1191" y1="141.1" x2="1226.8" y2="130" stroke="#0000ff" stroke-width="4.6"/>
<line x1="1251.8" y1="122.9" x2="1287.3" y2="114" stroke="#0000ff" stroke-width="4.6"/>
<line x1="1312.7" y1="108.6" x2="1347.8" y2="102.4" stroke="#0000ff" stroke-width="4.6"/>
<line x1="1373.4" y1="98" x2="1408.5" y2="91.8" stroke="#0000ff" stroke-width="4.6"/>
<line x1="1434.2" y1="88.3" x2="1469" y2="84.7" stroke="#0000ff" stroke-width="4.6"/>
<line x1="1494.9" y1="81.9" x2="1529.7" y2="78" stroke="#0000ff" stroke-width="4.6"/>
<line x1="1555.6" y1="75.6" x2="1590.3" y2="73.3" stroke="#0000ff" stroke-width="4.6"/>
<polygon points="984.2,383.4 1008.8,383.4 996.5,404.9" fill="#0000ff"/>
<polygon points="1044.9,275.8 1069.4,275.8 1057.2,297.3" fill="#0000ff"/>
<polygon points="1105.6,193.1 1130.1,193.1 1117.9,214.6" fill="#0000ff"/>
<polygon points="1166.3,137.8 1190.8,137.8 1178.5,159.3" fill="#0000ff"/>
<polygon points="1227,118.9 1251.5,118.9 1239.2,140.4" fill="#0000ff"/>
<polygon points="1287.7,103.6 1312.2,103.6 1299.9,125.1" fill="#0000ff"/>
<polygon points="1348.3,93 1372.8,93 1360.6,114.5" fill="#0000ff"/>
<polygon points="1409,82.4 1433.5,82.4 1421.3,103.9" fill="#0000ff"/>
<polygon points="1469.7,76.2 1494.2,76.2 1481.9,97.7" fill="#0000ff"/>
<polygon points="1530.4,69.3 1554.9,69.3 1542.6,90.8" fill="#0000ff"/>
<polygon points="1591,65.2 1615.5,65.2 1603.3,86.7" fill="#0000ff"/>
<line x1="1002.3" y1="466.2" x2="1051.4" y2="367.6" stroke="#ff00ff" stroke-width="4.6"/>
<line x1="1063.2" y1="344.5" x2="1111.8" y2="251.5" stroke="#ff00ff" stroke-width="4.6"/>
<line x1="1125.6" y1="229.6" x2="1170.8" y2="168.8" stroke="#ff00ff" stroke-width="4.6"/>
<line x1="1189.8" y1="151.9" x2="1227.9" y2="130.1" stroke="#ff00ff" stroke-width="4.6"/>
<line x1="1251.6" y1="119.8" x2="1287.5" y2="108.8" stroke="#ff00ff" stroke-width="4.6"/>
<line x1="1312.7" y1="102.9" x2="1347.8" y2="97.1" stroke="#ff00ff" stroke-width="4.6"/>
<line x1="1373.2" y1="91.9" x2="1408.6" y2="83.1" stroke="#ff00ff" stroke-width="4.6"/>
<line x1="1434.2" y1="78.4" x2="1469" y2="74.1" stroke="#ff00ff" stroke-width="4.6"/>
<line x1="1494.9" y1="71.4" x2="1529.7" y2="68.6" stroke="#ff00ff" stroke-width="4.6"/>
<line x1="1555.6" y1="66.5" x2="1590.3" y2="64" stroke="#ff00ff" stroke-width="4.6"/>
<polygon points="996.5,463.5 1008.8,485 984.2,485" fill="#ff00ff"/>
<polygon points="1057.2,341.7 1069.4,363.2 1044.9,363.2" fill="#ff00ff"/>
<polygon points="1117.9,225.7 1130.1,247.2 1105.6,247.2" fill="#ff00ff"/>
<polygon points="1178.5,144.1 1190.8,165.6 1166.3,165.6" fill="#ff00ff"/>
<polygon points="1239.2,109.3 1251.5,130.8 1227,130.8" fill="#ff00ff"/>
<polygon points="1299.9,90.7 1312.2,112.2 1287.7,112.2" fill="#ff00ff"/>
<polygon points="1360.6,80.7 1372.8,102.2 1348.3,102.2" fill="#ff00ff"/>
<polygon points="1421.3,65.7 1433.5,87.2 1409,87.2" fill="#ff00ff"/>
<polygon points="1481.9,58.2 1494.2,79.7 1469.7,79.7" fill="#ff00ff"/>
<polygon points="1542.6,53.2 1554.9,74.7 1530.4,74.7" fill="#ff00ff"/>
<polygon points="1603.3,48.7 1615.5,70.2 1591,70.2" fill="#ff00ff"/>
<line x1="1002.9" y1="347.6" x2="1050.7" y2="263.8" stroke="#008000" stroke-width="4.6"/>
<line x1="1065.1" y1="242.2" x2="1110" y2="183.1" stroke="#008000" stroke-width="4.6"/>
<line x1="1128.8" y1="165.7" x2="1167.6" y2="140.6" stroke="#008000" stroke-width="4.6"/>
<line x1="1191" y1="129.7" x2="1226.8" y2="119" stroke="#008000" stroke-width="4.6"/>
<line x1="1252" y1="112.6" x2="1287.2" y2="105.6" stroke="#008000" stroke-width="4.6"/>
<line x1="1312.7" y1="100.6" x2="1347.8" y2="93.9" stroke="#008000" stroke-width="4.6"/>
<line x1="1373.3" y1="88.7" x2="1408.6" y2="81" stroke="#008000" stroke-width="4.6"/>
<line x1="1434.2" y1="76.8" x2="1469" y2="72.8" stroke="#008000" stroke-width="4.6"/>
<line x1="1494.9" y1="70.4" x2="1529.7" y2="67.6" stroke="#008000" stroke-width="4.6"/>
<line x1="1555.6" y1="65.6" x2="1590.3" y2="62.8" stroke="#008000" stroke-width="4.6"/>
<polygon points="996.5,345.9 1009.5,358.9 996.5,371.9 983.5,358.9" fill="#008000"/>
<polygon points="1057.2,239.5 1070.2,252.5 1057.2,265.5 1044.2,252.5" fill="#008000"/>
<polygon points="1117.9,159.8 1130.9,172.8 1117.9,185.8 1104.9,172.8" fill="#008000"/>
<polygon points="1178.5,120.5 1191.5,133.5 1178.5,146.5 1165.5,133.5" fill="#008000"/>
<polygon points="1239.2,102.2 1252.2,115.2 1239.2,128.2 1226.2,115.2" fill="#008000"/>
<polygon points="1299.9,90 1312.9,103 1299.9,116 1286.9,103" fill="#008000"/>
<polygon points="1360.6,78.5 1373.6,91.5 1360.6,104.5 1347.6,91.5" fill="#008000"/>
<polygon points="1421.3,65.2 1434.3,78.2 1421.3,91.2 1408.3,78.2" fill="#008000"/>
<polygon points="1481.9,58.4 1494.9,71.4 1481.9,84.4 1468.9,71.4" fill="#008000"/>
<polygon points="1542.6,53.6 1555.6,66.6 1542.6,79.6 1529.6,66.6" fill="#008000"/>
<polygon points="1603.3,48.8 1616.3,61.8 1603.3,74.8 1590.3,61.8" fill="#008000"/>
<line x1="1002.3" y1="430.5" x2="1051.4" y2="332.1" stroke="#000080" stroke-width="4.6"/>
<line x1="1063.3" y1="309" x2="1111.8" y2="217.5" stroke="#000080" stroke-width="4.6"/>
<line x1="1126.5" y1="196.3" x2="1169.9" y2="147.7" stroke="#000080" stroke-width="4.6"/>
<line x1="1190.6" y1="133.2" x2="1227.1" y2="118.6" stroke="#000080" stroke-width="4.6"/>
<line x1="1251.7" y1="110" x2="1287.5" y2="99.3" stroke="#000080" stroke-width="4.6"/>
<line x1="1312.5" y1="92.5" x2="1347.9" y2="84" stroke="#000080" stroke-width="4.6"/>
<line x1="1373.4" y1="78.7" x2="1408.5" y2="72.5" stroke="#000080" stroke-width="4.6"/>
<line x1="1434.2" y1="68.9" x2="1469" y2="65.4" stroke="#000080" stroke-width="4.6"/>
<line x1="1494.9" y1="63.1" x2="1529.7" y2="60.3" stroke="#000080" stroke-width="4.6"/>
<line x1="1555.6" y1="58.4" x2="1590.3" y2="56" stroke="#000080" stroke-width="4.6"/>
<polygon points="996.5,429.5 999.5,438 1008.5,438.2 1001.3,443.7 1003.9,452.3 996.5,447.1 989.1,452.3 991.7,443.7 984.5,438.2 993.5,438" fill="#000080"/>
<polygon points="1057.2,307.9 1060.1,316.4 1069.2,316.6 1062,322.1 1064.6,330.7 1057.2,325.5 1049.8,330.7 1052.4,322.1 1045.2,316.6 1054.2,316.4" fill="#000080"/>
<polygon points="1117.9,193.4 1120.8,201.9 1129.8,202.1 1122.7,207.6 1125.3,216.2 1117.9,211 1110.5,216.2 1113.1,207.6 1105.9,202.1 1114.9,201.9" fill="#000080"/>
<polygon points="1178.5,125.4 1181.5,133.9 1190.5,134.1 1183.3,139.6 1185.9,148.2 1178.5,143 1171.1,148.2 1173.7,139.6 1166.6,134.1 1175.6,133.9" fill="#000080"/>
<polygon points="1239.2,101.2 1242.2,109.7 1251.2,109.9 1244,115.4 1246.6,124 1239.2,118.8 1231.8,124 1234.4,115.4 1227.2,109.9 1236.3,109.7" fill="#000080"/>
<polygon points="1299.9,82.9 1302.9,91.4 1311.9,91.6 1304.7,97.1 1307.3,105.7 1299.9,100.5 1292.5,105.7 1295.1,97.1 1287.9,91.6 1296.9,91.4" fill="#000080"/>
<polygon points="1360.6,68.4 1363.5,76.9 1372.6,77.1 1365.4,82.6 1368,91.2 1360.6,86 1353.2,91.2 1355.8,82.6 1348.6,77.1 1357.6,76.9" fill="#000080"/>
<polygon points="1421.3,57.6 1424.2,66.1 1433.2,66.3 1426.1,71.8 1428.7,80.4 1421.3,75.2 1413.9,80.4 1416.5,71.8 1409.3,66.3 1418.3,66.1" fill="#000080"/>
<polygon points="1481.9,51.5 1484.9,60 1493.9,60.2 1486.7,65.7 1489.3,74.3 1481.9,69.1 1474.5,74.3 1477.1,65.7 1470,60.2 1479,60" fill="#000080"/>
<polygon points="1542.6,46.7 1545.6,55.2 1554.6,55.4 1547.4,60.9 1550,69.5 1542.6,64.3 1535.2,69.5 1537.8,60.9 1530.6,55.4 1539.7,55.2" fill="#000080"/>
<polygon points="1603.3,42.5 1606.3,51 1615.3,51.2 1608.1,56.7 1610.7,65.3 1603.3,60.1 1595.9,65.3 1598.5,56.7 1591.3,51.2 1600.3,51" fill="#000080"/>
<line x1="1009.5" y1="543.6" x2="1044.2" y2="543.6" stroke="#000000" stroke-width="4.6"/>
<line x1="1070.2" y1="543.5" x2="1104.9" y2="543.1" stroke="#000000" stroke-width="4.6"/>
<line x1="1130.7" y1="541.3" x2="1165.7" y2="536.7" stroke="#000000" stroke-width="4.6"/>
<line x1="1190.6" y1="530.1" x2="1227.2" y2="515.4" stroke="#000000" stroke-width="4.6"/>
<line x1="1251.5" y1="506.4" x2="1287.6" y2="494.3" stroke="#000000" stroke-width="4.6"/>
<line x1="1312" y1="485.5" x2="1348.5" y2="471.1" stroke="#000000" stroke-width="4.6"/>
<line x1="1372.8" y1="462" x2="1409" y2="449" stroke="#000000" stroke-width="4.6"/>
<line x1="1433.4" y1="439.9" x2="1469.8" y2="425.5" stroke="#000000" stroke-width="4.6"/>
<line x1="1494" y1="416.1" x2="1530.5" y2="401.7" stroke="#000000" stroke-width="4.6"/>
<line x1="1554.8" y1="392.4" x2="1591.2" y2="378.5" stroke="#000000" stroke-width="4.6"/>
<rect x="987.6" y="534.7" width="17.8" height="17.8" fill="#000000"/>
<rect x="1048.3" y="534.7" width="17.8" height="17.8" fill="#000000"/>
<rect x="1109" y="534.1" width="17.8" height="17.8" fill="#000000"/>
<rect x="1169.6" y="526.1" width="17.8" height="17.8" fill="#000000"/>
<rect x="1230.3" y="501.6" width="17.8" height="17.8" fill="#000000"/>
<rect x="1291" y="481.3" width="17.8" height="17.8" fill="#000000"/>
<rect x="1351.7" y="457.5" width="17.8" height="17.8" fill="#000000"/>
<rect x="1412.4" y="435.7" width="17.8" height="17.8" fill="#000000"/>
<rect x="1473" y="411.9" width="17.8" height="17.8" fill="#000000"/>
<rect x="1533.7" y="388.1" width="17.8" height="17.8" fill="#000000"/>
<rect x="1594.4" y="365" width="17.8" height="17.8" fill="#000000"/>
<line x1="1009.5" y1="543.6" x2="1044.2" y2="543.6" stroke="#ff0000" stroke-width="4.6"/>
<line x1="1070.2" y1="543.3" x2="1104.9" y2="542.3" stroke="#ff0000" stroke-width="4.6"/>
<line x1="1130.7" y1="539.9" x2="1165.7" y2="534.1" stroke="#ff0000" stroke-width="4.6"/>
<line x1="1190.8" y1="527.6" x2="1227" y2="514.4" stroke="#ff0000" stroke-width="4.6"/>
<line x1="1250.9" y1="504.3" x2="1288.2" y2="486" stroke="#ff0000" stroke-width="4.6"/>
<line x1="1311.3" y1="474" x2="1349.2" y2="452.9" stroke="#ff0000" stroke-width="4.6"/>
<line x1="1372" y1="440.3" x2="1409.9" y2="419.3" stroke="#ff0000" stroke-width="4.6"/>
<line x1="1432.6" y1="406.7" x2="1470.6" y2="385.5" stroke="#ff0000" stroke-width="4.6"/>
<line x1="1493.3" y1="372.9" x2="1531.2" y2="351.9" stroke="#ff0000" stroke-width="4.6"/>
<line x1="1554" y1="339.2" x2="1592" y2="318" stroke="#ff0000" stroke-width="4.6"/>
<circle cx="996.5" cy="543.6" r="10.4" fill="#ff0000"/>
<circle cx="1057.2" cy="543.6" r="10.4" fill="#ff0000"/>
<circle cx="1117.9" cy="542" r="10.4" fill="#ff0000"/>
<circle cx="1178.5" cy="532" r="10.4" fill="#ff0000"/>
<circle cx="1239.2" cy="510" r="10.4" fill="#ff0000"/>
<circle cx="1299.9" cy="480.3" r="10.4" fill="#ff0000"/>
<circle cx="1360.6" cy="446.6" r="10.4" fill="#ff0000"/>
<circle cx="1421.3" cy="413" r="10.4" fill="#ff0000"/>
<circle cx="1481.9" cy="379.2" r="10.4" fill="#ff0000"/>
<circle cx="1542.6" cy="345.6" r="10.4" fill="#ff0000"/>
<circle cx="1603.3" cy="311.6" r="10.4" fill="#ff0000"/>
<line x1="1009.5" y1="543.6" x2="1044.2" y2="543.6" stroke="#0000ff" stroke-width="4.6"/>
<line x1="1070.1" y1="542.2" x2="1104.9" y2="538.4" stroke="#0000ff" stroke-width="4.6"/>
<line x1="1129.8" y1="531.9" x2="1166.6" y2="516.1" stroke="#0000ff" stroke-width="4.6"/>
<line x1="1191.1" y1="507.7" x2="1226.6" y2="498.3" stroke="#0000ff" stroke-width="4.6"/>
<line x1="1250.4" y1="488.4" x2="1288.7" y2="466" stroke="#0000ff" stroke-width="4.6"/>
<line x1="1311.4" y1="453.4" x2="1349.1" y2="433.7" stroke="#0000ff" stroke-width="4.6"/>
<line x1="1371.9" y1="421.4" x2="1409.9" y2="400.3" stroke="#0000ff" stroke-width="4.6"/>
<line x1="1432.6" y1="387.7" x2="1470.6" y2="366.7" stroke="#0000ff" stroke-width="4.6"/>
<line x1="1493.6" y1="354.7" x2="1530.9" y2="336.4" stroke="#0000ff" stroke-width="4.6"/>
<line x1="1554.5" y1="325.4" x2="1591.4" y2="308.9" stroke="#0000ff" stroke-width="4.6"/>
<polygon points="984.2,536.4 1008.8,536.4 996.5,557.9" fill="#0000ff"/>
<polygon points="1044.9,536.4 1069.4,536.4 1057.2,557.9" fill="#0000ff"/>
<polygon points="1105.6,529.8 1130.1,529.8 1117.9,551.3" fill="#0000ff"/>
<polygon points="1166.3,503.8 1190.8,503.8 1178.5,525.3" fill="#0000ff"/>
<polygon points="1227,487.8 1251.5,487.8 1239.2,509.3" fill="#0000ff"/>
<polygon points="1287.7,452.2 1312.2,452.2 1299.9,473.7" fill="#0000ff"/>
<polygon points="1348.3,420.5 1372.8,420.5 1360.6,442" fill="#0000ff"/>
<polygon points="1409,386.8 1433.5,386.8 1421.3,408.3" fill="#0000ff"/>
<polygon points="1469.7,353.2 1494.2,353.2 1481.9,374.7" fill="#0000ff"/>
<polygon points="1530.4,323.5 1554.9,323.5 1542.6,345" fill="#0000ff"/>
<polygon points="1591,296.4 1615.5,296.4 1603.3,317.9" fill="#0000ff"/>
<line x1="1009.5" y1="543.6" x2="1044.2" y2="543.6" stroke="#ff00ff" stroke-width="4.6"/>
<line x1="1070.2" y1="543.6" x2="1104.9" y2="543.5" stroke="#ff00ff" stroke-width="4.6"/>
<line x1="1130.2" y1="539.3" x2="1166.2" y2="527.2" stroke="#ff00ff" stroke-width="4.6"/>
<line x1="1189.8" y1="516.5" x2="1228" y2="494.5" stroke="#ff00ff" stroke-width="4.6"/>
<line x1="1249.6" y1="480.2" x2="1289.5" y2="450.3" stroke="#ff00ff" stroke-width="4.6"/>
<line x1="1310.1" y1="434.4" x2="1350.4" y2="402.6" stroke="#ff00ff" stroke-width="4.6"/>
<line x1="1371" y1="386.7" x2="1410.9" y2="356.8" stroke="#ff00ff" stroke-width="4.6"/>
<line x1="1431.5" y1="341" x2="1471.7" y2="310" stroke="#ff00ff" stroke-width="4.6"/>
<line x1="1492.2" y1="294" x2="1532.3" y2="263" stroke="#ff00ff" stroke-width="4.6"/>
<line x1="1553.6" y1="248" x2="1592.4" y2="223" stroke="#ff00ff" stroke-width="4.6"/>
<polygon points="996.5,529.3 1008.8,550.8 984.2,550.8" fill="#ff00ff"/>
<polygon points="1057.2,529.3 1069.4,550.8 1044.9,550.8" fill="#ff00ff"/>
<polygon points="1117.9,529.2 1130.1,550.7 1105.6,550.7" fill="#ff00ff"/>
<polygon points="1178.5,508.7 1190.8,530.2 1166.3,530.2" fill="#ff00ff"/>
<polygon points="1239.2,473.7 1251.5,495.2 1227,495.2" fill="#ff00ff"/>
<polygon points="1299.9,428.2 1312.2,449.7 1287.7,449.7" fill="#ff00ff"/>
<polygon points="1360.6,380.2 1372.8,401.7 1348.3,401.7" fill="#ff00ff"/>
<polygon points="1421.3,334.7 1433.5,356.2 1409,356.2" fill="#ff00ff"/>
<polygon points="1481.9,287.7 1494.2,309.2 1469.7,309.2" fill="#ff00ff"/>
<polygon points="1542.6,240.7 1554.9,262.2 1530.4,262.2" fill="#ff00ff"/>
<polygon points="1603.3,201.7 1615.5,223.2 1591,223.2" fill="#ff00ff"/>
<line x1="1009.5" y1="543.6" x2="1044.2" y2="543.6" stroke="#008000" stroke-width="4.6"/>
<line x1="1069.8" y1="540.7" x2="1105.2" y2="532.4" stroke="#008000" stroke-width="4.6"/>
<line x1="1129.7" y1="524.2" x2="1166.7" y2="507.8" stroke="#008000" stroke-width="4.6"/>
<line x1="1190" y1="496.4" x2="1227.7" y2="476.5" stroke="#008000" stroke-width="4.6"/>
<line x1="1250.1" y1="463.3" x2="1289" y2="437.8" stroke="#008000" stroke-width="4.6"/>
<line x1="1310.1" y1="422.7" x2="1350.3" y2="391.2" stroke="#008000" stroke-width="4.6"/>
<line x1="1370.8" y1="375.2" x2="1411" y2="343.7" stroke="#008000" stroke-width="4.6"/>
<line x1="1431.5" y1="327.7" x2="1471.7" y2="296.3" stroke="#008000" stroke-width="4.6"/>
<line x1="1492.8" y1="281.2" x2="1531.7" y2="255.8" stroke="#008000" stroke-width="4.6"/>
<line x1="1553.8" y1="242.1" x2="1592.1" y2="219.8" stroke="#008000" stroke-width="4.6"/>
<polygon points="996.5,530.6 1009.5,543.6 996.5,556.6 983.5,543.6" fill="#008000"/>
<polygon points="1057.2,530.6 1070.2,543.6 1057.2,556.6 1044.2,543.6" fill="#008000"/>
<polygon points="1117.9,516.5 1130.9,529.5 1117.9,542.5 1104.9,529.5" fill="#008000"/>
<polygon points="1178.5,489.5 1191.5,502.5 1178.5,515.5 1165.5,502.5" fill="#008000"/>
<polygon points="1239.2,457.4 1252.2,470.4 1239.2,483.4 1226.2,470.4" fill="#008000"/>
<polygon points="1299.9,417.7 1312.9,430.7 1299.9,443.7 1286.9,430.7" fill="#008000"/>
<polygon points="1360.6,370.2 1373.6,383.2 1360.6,396.2 1347.6,383.2" fill="#008000"/>
<polygon points="1421.3,322.7 1434.3,335.7 1421.3,348.7 1408.3,335.7" fill="#008000"/>
<polygon points="1481.9,275.3 1494.9,288.3 1481.9,301.3 1468.9,288.3" fill="#008000"/>
<polygon points="1542.6,235.7 1555.6,248.7 1542.6,261.7 1529.6,248.7" fill="#008000"/>
<polygon points="1603.3,200.2 1616.3,213.2 1603.3,226.2 1590.3,213.2" fill="#008000"/>
<line x1="1009.5" y1="543.6" x2="1044.2" y2="543.6" stroke="#000080" stroke-width="4.6"/>
<line x1="1070.1" y1="542.2" x2="1104.9" y2="538.4" stroke="#000080" stroke-width="4.6"/>
<line x1="1129.7" y1="531.6" x2="1166.7" y2="514.4" stroke="#000080" stroke-width="4.6"/>
<line x1="1189.3" y1="501.8" x2="1228.4" y2="475.6" stroke="#000080" stroke-width="4.6"/>
<line x1="1248.7" y1="459.5" x2="1290.5" y2="419.9" stroke="#000080" stroke-width="4.6"/>
<line x1="1308.9" y1="401.6" x2="1351.6" y2="356.9" stroke="#000080" stroke-width="4.6"/>
<line x1="1369.3" y1="337.9" x2="1412.5" y2="290" stroke="#000080" stroke-width="4.6"/>
<line x1="1430.4" y1="271.2" x2="1472.8" y2="228.2" stroke="#000080" stroke-width="4.6"/>
<line x1="1491.9" y1="210.7" x2="1532.7" y2="176.5" stroke="#000080" stroke-width="4.6"/>
<line x1="1553" y1="160.3" x2="1592.9" y2="130.1" stroke="#000080" stroke-width="4.6"/>
<polygon points="996.5,531 999.5,539.5 1008.5,539.7 1001.3,545.2 1003.9,553.8 996.5,548.6 989.1,553.8 991.7,545.2 984.5,539.7 993.5,539.5" fill="#000080"/>
<polygon points="1057.2,531 1060.1,539.5 1069.2,539.7 1062,545.2 1064.6,553.8 1057.2,548.6 1049.8,553.8 1052.4,545.2 1045.2,539.7 1054.2,539.5" fill="#000080"/>
<polygon points="1117.9,524.4 1120.8,532.9 1129.8,533.1 1122.7,538.6 1125.3,547.2 1117.9,542 1110.5,547.2 1113.1,538.6 1105.9,533.1 1114.9,532.9" fill="#000080"/>
<polygon points="1178.5,496.4 1181.5,504.9 1190.5,505.1 1183.3,510.6 1185.9,519.2 1178.5,514 1171.1,519.2 1173.7,510.6 1166.6,505.1 1175.6,504.9" fill="#000080"/>
<polygon points="1239.2,455.8 1242.2,464.3 1251.2,464.5 1244,470 1246.6,478.6 1239.2,473.4 1231.8,478.6 1234.4,470 1227.2,464.5 1236.3,464.3" fill="#000080"/>
<polygon points="1299.9,398.4 1302.9,406.9 1311.9,407.1 1304.7,412.6 1307.3,421.2 1299.9,416 1292.5,421.2 1295.1,412.6 1287.9,407.1 1296.9,406.9" fill="#000080"/>
<polygon points="1360.6,334.9 1363.5,343.4 1372.6,343.6 1365.4,349.1 1368,357.7 1360.6,352.5 1353.2,357.7 1355.8,349.1 1348.6,343.6 1357.6,343.4" fill="#000080"/>
<polygon points="1421.3,267.8 1424.2,276.3 1433.2,276.5 1426.1,282 1428.7,290.6 1421.3,285.4 1413.9,290.6 1416.5,282 1409.3,276.5 1418.3,276.3" fill="#000080"/>
<polygon points="1481.9,206.4 1484.9,214.9 1493.9,215.1 1486.7,220.6 1489.3,229.2 1481.9,224 1474.5,229.2 1477.1,220.6 1470,215.1 1479,214.9" fill="#000080"/>
<polygon points="1542.6,155.6 1545.6,164.1 1554.6,164.3 1547.4,169.8 1550,178.4 1542.6,173.2 1535.2,178.4 1537.8,169.8 1530.6,164.3 1539.7,164.1" fill="#000080"/>
<polygon points="1603.3,109.6 1606.3,118.1 1615.3,118.3 1608.1,123.8 1610.7,132.4 1603.3,127.2 1595.9,132.4 1598.5,123.8 1591.3,118.3 1600.3,118.1" fill="#000080"/>
<rect x="966.3" y="17.5" width="667.2" height="543.8" fill="none" stroke="#000" stroke-width="6.2"/>
<path d="M996.5,17.5V28.1M996.5,561.3V570.9M1117.9,17.5V28.1M1117.9,561.3V570.9M1239.2,17.5V28.1M1239.2,561.3V570.9M1360.6,17.5V28.1M1360.6,561.3V570.9M1481.9,17.5V28.1M1481.9,561.3V570.9M1603.3,17.5V28.1M1603.3,561.3V570.9M966.3,536.2H956.2M966.3,456.8H956.2M966.3,377.4H956.2M966.3,298H956.2M966.3,218.6H956.2M966.3,139.2H956.2M966.3,59.8H956.2M1633.5,543.3H1643.1M1633.5,473.2H1643.1M1633.5,403.1H1643.1M1633.5,332.9H1643.1M1633.5,262.8H1643.1M1633.5,192.7H1643.1M1633.5,122.6H1643.1M1633.5,52.5H1643.1" stroke="#000" stroke-width="6" fill="none" stroke-linecap="round"/>
<path d="M966.3,560.1H960.7M966.3,553.8H960.7M966.3,548.5H960.7M966.3,543.9H960.7M966.3,539.8H960.7M966.3,512.3H960.7M966.3,498.3H960.7M966.3,488.4H960.7M966.3,480.7H960.7M966.3,474.4H960.7M966.3,469.1H960.7M966.3,464.5H960.7M966.3,460.4H960.7M966.3,432.9H960.7M966.3,418.9H960.7M966.3,409H960.7M966.3,401.3H960.7M966.3,395H960.7M966.3,389.7H960.7M966.3,385.1H960.7M966.3,381H960.7M966.3,353.5H960.7M966.3,339.5H960.7M966.3,329.6H960.7M966.3,321.9H960.7M966.3,315.6H960.7M966.3,310.3H960.7M966.3,305.7H960.7M966.3,301.6H960.7M966.3,274.1H960.7M966.3,260.1H960.7M966.3,250.2H960.7M966.3,242.5H960.7M966.3,236.2H960.7M966.3,230.9H960.7M966.3,226.3H960.7M966.3,222.2H960.7M966.3,194.7H960.7M966.3,180.7H960.7M966.3,170.8H960.7M966.3,163.1H960.7M966.3,156.8H960.7M966.3,151.5H960.7M966.3,146.9H960.7M966.3,142.8H960.7M966.3,115.3H960.7M966.3,101.3H960.7M966.3,91.4H960.7M966.3,83.7H960.7M966.3,77.4H960.7M966.3,72.1H960.7M966.3,67.5H960.7M966.3,63.4H960.7M966.3,35.9H960.7M966.3,21.9H960.7" stroke="#000" stroke-width="5" fill="none" stroke-linecap="round"/>
<text x="140.5" y="598.5" font-family="'Liberation Serif','Times New Roman',serif" font-size="32" font-weight="bold" text-anchor="middle" >0.0</text>
<text x="261.8" y="598.5" font-family="'Liberation Serif','Times New Roman',serif" font-size="32" font-weight="bold" text-anchor="middle" >-0.2</text>
<text x="383.2" y="598.5" font-family="'Liberation Serif','Times New Roman',serif" font-size="32" font-weight="bold" text-anchor="middle" >-0.4</text>
<text x="504.5" y="598.5" font-family="'Liberation Serif','Times New Roman',serif" font-size="32" font-weight="bold" text-anchor="middle" >-0.6</text>
<text x="625.9" y="598.5" font-family="'Liberation Serif','Times New Roman',serif" font-size="32" font-weight="bold" text-anchor="middle" >-0.8</text>
<text x="747.2" y="598.5" font-family="'Liberation Serif','Times New Roman',serif" font-size="32" font-weight="bold" text-anchor="middle" >-1.0</text>
<text x="44.4" y="536.9" font-family="'Liberation Serif','Times New Roman',serif" font-weight="bold" font-size="31.5" textLength="33.5" lengthAdjust="spacingAndGlyphs">10</text>
<text x="76.7" y="519.9" font-family="'Liberation Serif','Times New Roman',serif" font-weight="bold" font-size="17">-8</text>
<text x="44.4" y="455.8" font-family="'Liberation Serif','Times New Roman',serif" font-weight="bold" font-size="31.5" textLength="33.5" lengthAdjust="spacingAndGlyphs">10</text>
<text x="76.7" y="438.8" font-family="'Liberation Serif','Times New Roman',serif" font-weight="bold" font-size="17">-7</text>
<text x="44.4" y="374.7" font-family="'Liberation Serif','Times New Roman',serif" font-weight="bold" font-size="31.5" textLength="33.5" lengthAdjust="spacingAndGlyphs">10</text>
<text x="76.7" y="357.7" font-family="'Liberation Serif','Times New Roman',serif" font-weight="bold" font-size="17">-6</text>
<text x="44.4" y="293.6" font-family="'Liberation Serif','Times New Roman',serif" font-weight="bold" font-size="31.5" textLength="33.5" lengthAdjust="spacingAndGlyphs">10</text>
<text x="76.7" y="276.6" font-family="'Liberation Serif','Times New Roman',serif" font-weight="bold" font-size="17">-5</text>
<text x="44.4" y="212.5" font-family="'Liberation Serif','Times New Roman',serif" font-weight="bold" font-size="31.5" textLength="33.5" lengthAdjust="spacingAndGlyphs">10</text>
<text x="76.7" y="195.5" font-family="'Liberation Serif','Times New Roman',serif" font-weight="bold" font-size="17">-4</text>
<text x="44.4" y="131.4" font-family="'Liberation Serif','Times New Roman',serif" font-weight="bold" font-size="31.5" textLength="33.5" lengthAdjust="spacingAndGlyphs">10</text>
<text x="76.7" y="114.4" font-family="'Liberation Serif','Times New Roman',serif" font-weight="bold" font-size="17">-3</text>
<text x="44.4" y="50.3" font-family="'Liberation Serif','Times New Roman',serif" font-weight="bold" font-size="31.5" textLength="33.5" lengthAdjust="spacingAndGlyphs">10</text>
<text x="76.7" y="33.3" font-family="'Liberation Serif','Times New Roman',serif" font-weight="bold" font-size="17">-2</text>
<text x="792.5" y="541.4" font-family="'Liberation Serif','Times New Roman',serif" font-size="31.5" font-weight="bold" text-anchor="start" >0</text>
<text x="792.5" y="437.8" font-family="'Liberation Serif','Times New Roman',serif" font-size="31.5" font-weight="bold" text-anchor="start" >2</text>
<text x="792.5" y="334.2" font-family="'Liberation Serif','Times New Roman',serif" font-size="31.5" font-weight="bold" text-anchor="start" >4</text>
<text x="792.5" y="230.6" font-family="'Liberation Serif','Times New Roman',serif" font-size="31.5" font-weight="bold" text-anchor="start" >6</text>
<text x="792.5" y="127" font-family="'Liberation Serif','Times New Roman',serif" font-size="31.5" font-weight="bold" text-anchor="start" >8</text>
<text x="792.5" y="23.4" font-family="'Liberation Serif','Times New Roman',serif" font-size="31.5" font-weight="bold" text-anchor="start" >10</text>
<text x="996.5" y="601.5" font-family="'Liberation Serif','Times New Roman',serif" font-size="32" font-weight="bold" text-anchor="middle" >0.0</text>
<text x="1117.9" y="601.5" font-family="'Liberation Serif','Times New Roman',serif" font-size="32" font-weight="bold" text-anchor="middle" >-0.2</text>
<text x="1239.2" y="601.5" font-family="'Liberation Serif','Times New Roman',serif" font-size="32" font-weight="bold" text-anchor="middle" >-0.4</text>
<text x="1360.6" y="601.5" font-family="'Liberation Serif','Times New Roman',serif" font-size="32" font-weight="bold" text-anchor="middle" >-0.6</text>
<text x="1481.9" y="601.5" font-family="'Liberation Serif','Times New Roman',serif" font-size="32" font-weight="bold" text-anchor="middle" >-0.8</text>
<text x="1603.3" y="601.5" font-family="'Liberation Serif','Times New Roman',serif" font-size="32" font-weight="bold" text-anchor="middle" >-1.0</text>
<text x="899.4" y="547.6" font-family="'Liberation Serif','Times New Roman',serif" font-weight="bold" font-size="31.5" textLength="34.8" lengthAdjust="spacingAndGlyphs">10</text>
<text x="933" y="530.6" font-family="'Liberation Serif','Times New Roman',serif" font-weight="bold" font-size="17">-8</text>
<text x="899.4" y="468.2" font-family="'Liberation Serif','Times New Roman',serif" font-weight="bold" font-size="31.5" textLength="34.8" lengthAdjust="spacingAndGlyphs">10</text>
<text x="933" y="451.2" font-family="'Liberation Serif','Times New Roman',serif" font-weight="bold" font-size="17">-7</text>
<text x="899.4" y="388.8" font-family="'Liberation Serif','Times New Roman',serif" font-weight="bold" font-size="31.5" textLength="34.8" lengthAdjust="spacingAndGlyphs">10</text>
<text x="933" y="371.8" font-family="'Liberation Serif','Times New Roman',serif" font-weight="bold" font-size="17">-6</text>
<text x="899.4" y="309.4" font-family="'Liberation Serif','Times New Roman',serif" font-weight="bold" font-size="31.5" textLength="34.8" lengthAdjust="spacingAndGlyphs">10</text>
<text x="933" y="292.4" font-family="'Liberation Serif','Times New Roman',serif" font-weight="bold" font-size="17">-5</text>
<text x="899.4" y="230" font-family="'Liberation Serif','Times New Roman',serif" font-weight="bold" font-size="31.5" textLength="34.8" lengthAdjust="spacingAndGlyphs">10</text>
<text x="933" y="213" font-family="'Liberation Serif','Times New Roman',serif" font-weight="bold" font-size="17">-4</text>
<text x="899.4" y="150.6" font-family="'Liberation Serif','Times New Roman',serif" font-weight="bold" font-size="31.5" textLength="34.8" lengthAdjust="spacingAndGlyphs">10</text>
<text x="933" y="133.6" font-family="'Liberation Serif','Times New Roman',serif" font-weight="bold" font-size="17">-3</text>
<text x="899.4" y="71.2" font-family="'Liberation Serif','Times New Roman',serif" font-weight="bold" font-size="31.5" textLength="34.8" lengthAdjust="spacingAndGlyphs">10</text>
<text x="933" y="54.2" font-family="'Liberation Serif','Times New Roman',serif" font-weight="bold" font-size="17">-2</text>
<text x="1649.3" y="551.3" font-family="'Liberation Serif','Times New Roman',serif" font-size="31.5" font-weight="bold" text-anchor="start" >0</text>
<text x="1649.3" y="481.2" font-family="'Liberation Serif','Times New Roman',serif" font-size="31.5" font-weight="bold" text-anchor="start" >2</text>
<text x="1649.3" y="411.1" font-family="'Liberation Serif','Times New Roman',serif" font-size="31.5" font-weight="bold" text-anchor="start" >4</text>
<text x="1649.3" y="340.9" font-family="'Liberation Serif','Times New Roman',serif" font-size="31.5" font-weight="bold" text-anchor="start" >6</text>
<text x="1649.3" y="270.8" font-family="'Liberation Serif','Times New Roman',serif" font-size="31.5" font-weight="bold" text-anchor="start" >8</text>
<text x="1649.3" y="200.7" font-family="'Liberation Serif','Times New Roman',serif" font-size="31.5" font-weight="bold" text-anchor="start" >10</text>
<text x="1649.3" y="130.6" font-family="'Liberation Serif','Times New Roman',serif" font-size="31.5" font-weight="bold" text-anchor="start" >12</text>
<text x="1649.3" y="60.5" font-family="'Liberation Serif','Times New Roman',serif" font-size="31.5" font-weight="bold" text-anchor="start" >14</text>
<text x="362" y="65.2" font-family="'Liberation Serif','Times New Roman',serif" font-size="29" font-weight="bold" text-anchor="start" textLength="121.3" lengthAdjust="spacingAndGlyphs" >2-Stacked</text>
<text x="122.3" y="148.4" font-family="'Liberation Serif','Times New Roman',serif" font-weight="bold" font-size="29">V</text>
<text x="143" y="158.7" font-family="'Liberation Serif','Times New Roman',serif" font-weight="bold" font-size="16.5">D</text>
<text x="156" y="148.4" font-family="'Liberation Serif','Times New Roman',serif" font-size="29" font-weight="bold" text-anchor="start" textLength="97.3" lengthAdjust="spacingAndGlyphs" >= -0.7 V</text>
<text x="123" y="196.4" font-family="'Liberation Serif','Times New Roman',serif" font-size="29" font-weight="bold" text-anchor="start" textLength="109" lengthAdjust="spacingAndGlyphs" >Ge=30%</text>
<text x="405" y="162" font-family="'Liberation Serif','Times New Roman',serif" font-size="29" font-weight="bold" text-anchor="start" textLength="177.5" lengthAdjust="spacingAndGlyphs" >Strained-SiGe</text>
<text x="354.9" y="255.4" font-family="'Liberation Serif','Times New Roman',serif" font-size="29" font-weight="bold" text-anchor="start" textLength="139.8" lengthAdjust="spacingAndGlyphs" >Strained-Si</text>
<text x="121.5" y="334.6" font-family="'Liberation Serif','Times New Roman',serif" font-size="29" font-weight="bold" text-anchor="start" textLength="37.4" lengthAdjust="spacingAndGlyphs" >(a)</text>
<text x="339.4" y="347.5" font-family="'Liberation Serif','Times New Roman',serif" font-size="29" font-weight="bold" text-anchor="start" textLength="93.1" lengthAdjust="spacingAndGlyphs" >NSFET</text>
<text x="616" y="448.6" font-family="'Liberation Serif','Times New Roman',serif" font-size="29" font-weight="bold" text-anchor="start" textLength="137.5" lengthAdjust="spacingAndGlyphs" >Unstrained</text>
<text x="499.9" y="525.8" font-family="'Liberation Serif','Times New Roman',serif" font-size="29" font-weight="bold" text-anchor="start" textLength="105" lengthAdjust="spacingAndGlyphs" >NWFET</text>
<ellipse cx="319" cy="153.5" rx="17" ry="64.8" fill="none" stroke="#000" stroke-width="3.3"/>
<line x1="322" y1="87.6" x2="241" y2="87.4" stroke="#000" stroke-width="3.3"/><polyline points="251,78.9 239.5,87.4 251,95.9" fill="none" stroke="#000" stroke-width="3.8" stroke-linecap="round" stroke-linejoin="round"/>
<ellipse cx="338" cy="497.7" rx="12.6" ry="46.9" fill="none" stroke="#000" stroke-width="3.3"/>
<line x1="338" y1="544.3" x2="422.7" y2="544.1" stroke="#000" stroke-width="3.3"/><polyline points="413.7,552.1 424.2,544.1 413.7,536.1" fill="none" stroke="#000" stroke-width="3.8" stroke-linecap="round" stroke-linejoin="round"/>
<ellipse cx="655.9" cy="185" rx="12.9" ry="36.6" fill="none" stroke="#000" stroke-width="3.3"/>
<line x1="657" y1="147.2" x2="590" y2="146.9" stroke="#000" stroke-width="3.3"/><polyline points="602,138 588.5,146.9 602,156" fill="none" stroke="#000" stroke-width="3.8" stroke-linecap="round" stroke-linejoin="round"/>
<ellipse cx="652.5" cy="280.2" rx="13.2" ry="35" fill="none" stroke="#000" stroke-width="3.3"/>
<line x1="655" y1="245.6" x2="511.6" y2="246.2" stroke="#000" stroke-width="3.3"/><polyline points="522.6,235.6 510.1,246.2 522.6,256.6" fill="none" stroke="#000" stroke-width="3.8" stroke-linecap="round" stroke-linejoin="round"/>
<ellipse cx="713.5" cy="330.2" rx="14" ry="40.7" fill="none" stroke="#000" stroke-width="3.3"/>
<line x1="714.5" y1="371" x2="714.8" y2="412.5" stroke="#000" stroke-width="3.3"/><polyline points="704.2,402.1 714.8,414 725.2,401.9" fill="none" stroke="#000" stroke-width="3.8" stroke-linecap="round" stroke-linejoin="round"/>
<polyline points="473.4,406.7 442.9,341.2 465.7,457" fill="none" stroke="#000" stroke-width="3"/>
<polyline points="531.3,316.8 552.6,495.1 525.2,379.9" fill="none" stroke="#000" stroke-width="3"/>
<polyline points="552.6,495.1 520.6,435.7" fill="none" stroke="#000" stroke-width="3"/>
<text x="1227" y="61.1" font-family="'Liberation Serif','Times New Roman',serif" font-size="29" font-weight="bold" text-anchor="start" textLength="121" lengthAdjust="spacingAndGlyphs" >3-Stacked</text>
<text x="975" y="143.7" font-family="'Liberation Serif','Times New Roman',serif" font-weight="bold" font-size="29">V</text>
<text x="995.5" y="154" font-family="'Liberation Serif','Times New Roman',serif" font-weight="bold" font-size="16.5">D</text>
<text x="1008.5" y="143.7" font-family="'Liberation Serif','Times New Roman',serif" font-size="29" font-weight="bold" text-anchor="start" textLength="98.5" lengthAdjust="spacingAndGlyphs" >= -0.7 V</text>
<text x="975" y="188.5" font-family="'Liberation Serif','Times New Roman',serif" font-size="29" font-weight="bold" text-anchor="start" textLength="108.7" lengthAdjust="spacingAndGlyphs" >Ge=30%</text>
<text x="1239.3" y="193.5" font-family="'Liberation Serif','Times New Roman',serif" font-size="29" font-weight="bold" text-anchor="start" textLength="176.4" lengthAdjust="spacingAndGlyphs" >Strained-SiGe</text>
<text x="1160.6" y="316.4" font-family="'Liberation Serif','Times New Roman',serif" font-size="29" font-weight="bold" text-anchor="start" textLength="139.9" lengthAdjust="spacingAndGlyphs" >Strained-Si</text>
<text x="975.5" y="303" font-family="'Liberation Serif','Times New Roman',serif" font-size="29" font-weight="bold" text-anchor="start" textLength="38.9" lengthAdjust="spacingAndGlyphs" >(b)</text>
<text x="1156.6" y="385.2" font-family="'Liberation Serif','Times New Roman',serif" font-size="29" font-weight="bold" text-anchor="start" textLength="92.4" lengthAdjust="spacingAndGlyphs" >NSFET</text>
<text x="1474.8" y="485" font-family="'Liberation Serif','Times New Roman',serif" font-size="29" font-weight="bold" text-anchor="start" textLength="137.5" lengthAdjust="spacingAndGlyphs" >Unstrained</text>
<text x="1356" y="530.6" font-family="'Liberation Serif','Times New Roman',serif" font-size="29" font-weight="bold" text-anchor="start" textLength="103" lengthAdjust="spacingAndGlyphs" >NWFET</text>
<ellipse cx="1175.2" cy="157.2" rx="16.7" ry="65.3" fill="none" stroke="#000" stroke-width="3.3"/>
<line x1="1178.6" y1="91.6" x2="1082.8" y2="91.8" stroke="#000" stroke-width="3.3"/><polyline points="1100.8,81.8 1081.3,91.8 1100.8,101.8" fill="none" stroke="#000" stroke-width="3.8" stroke-linecap="round" stroke-linejoin="round"/>
<ellipse cx="1191.9" cy="507" rx="12.6" ry="40.4" fill="none" stroke="#000" stroke-width="3.3"/>
<line x1="1192" y1="547" x2="1278.4" y2="547.2" stroke="#000" stroke-width="3.3"/><polyline points="1264.9,555.2 1279.9,547.2 1264.9,539.2" fill="none" stroke="#000" stroke-width="3.8" stroke-linecap="round" stroke-linejoin="round"/>
<ellipse cx="1479.7" cy="238.9" rx="15.5" ry="55" fill="none" stroke="#000" stroke-width="3.3"/>
<line x1="1481" y1="184.1" x2="1434.6" y2="184.2" stroke="#000" stroke-width="3.3"/><polyline points="1443.1,175.7 1433.1,184.2 1443.1,192.7" fill="none" stroke="#000" stroke-width="3.8" stroke-linecap="round" stroke-linejoin="round"/>
<ellipse cx="1453.8" cy="352.1" rx="7.3" ry="34.4" fill="none" stroke="#000" stroke-width="3.3"/>
<line x1="1456.5" y1="316.8" x2="1314" y2="316.7" stroke="#000" stroke-width="3.3"/><polyline points="1326,306.2 1312.5,316.7 1326,327.2" fill="none" stroke="#000" stroke-width="3.8" stroke-linecap="round" stroke-linejoin="round"/>
<ellipse cx="1517.8" cy="393.3" rx="10.4" ry="36.4" fill="none" stroke="#000" stroke-width="3.3"/>
<line x1="1518" y1="429.5" x2="1519.4" y2="459.7" stroke="#000" stroke-width="3.3"/><polyline points="1508.9,449.7 1519.5,461.2 1528.9,448.7" fill="none" stroke="#000" stroke-width="3.8" stroke-linecap="round" stroke-linejoin="round"/>
<polyline points="1273.5,436 1233.7,394.9 1262.5,497.7" fill="none" stroke="#000" stroke-width="3"/>
<polyline points="1233.7,394.9 1272.1,467.6" fill="none" stroke="#000" stroke-width="3"/>
<polyline points="1397,351 1394.2,504.6 1384,414" fill="none" stroke="#000" stroke-width="3"/>
<polyline points="1394.2,504.6 1375,462" fill="none" stroke="#000" stroke-width="3"/>
<text transform="translate(27.5,459.7) rotate(-90)" font-family="'Liberation Serif','Times New Roman',serif" font-weight="bold" font-size="31" textLength="197" lengthAdjust="spacingAndGlyphs">Drain Current</text><text transform="translate(27.5,259) rotate(-90)" font-family="'Liberation Sans',Arial,sans-serif" font-weight="bold" font-size="27" textLength="150.5" lengthAdjust="spacingAndGlyphs">(I<tspan font-size="18" dy="6">D</tspan><tspan dy="-6">)[A/</tspan><tspan font-family="'Liberation Serif','Times New Roman',serif" font-weight="normal" font-size="27">&#956;</tspan>m]</text>
<text transform="translate(883,456.8) rotate(-90)" font-family="'Liberation Serif','Times New Roman',serif" font-weight="bold" font-size="31" textLength="199.6" lengthAdjust="spacingAndGlyphs">Drain Current</text><text transform="translate(883,249) rotate(-90)" font-family="'Liberation Sans',Arial,sans-serif" font-weight="bold" font-size="27" textLength="147.3" lengthAdjust="spacingAndGlyphs">(I<tspan font-size="18" dy="6">D</tspan><tspan dy="-6">)[A/</tspan><tspan font-family="'Liberation Serif','Times New Roman',serif" font-weight="normal" font-size="27">&#956;</tspan>m]</text>
<text transform="translate(825.4,69.9) rotate(90)" font-family="'Liberation Serif','Times New Roman',serif" font-weight="bold" font-size="31" textLength="200.5" lengthAdjust="spacingAndGlyphs">Drain Current</text><text transform="translate(825.4,274.6) rotate(90)" font-family="'Liberation Sans',Arial,sans-serif" font-weight="bold" font-size="27" textLength="217" lengthAdjust="spacingAndGlyphs">(I<tspan font-size="18" dy="6">D</tspan><tspan dy="-6" font-family="'Liberation Serif','Times New Roman',serif">*10</tspan><tspan font-family="'Liberation Serif','Times New Roman',serif" font-size="17" dy="-12">3</tspan><tspan dy="12">)[</tspan><tspan font-family="'Liberation Serif','Times New Roman',serif" font-weight="normal">&#956;</tspan>A/<tspan font-family="'Liberation Serif','Times New Roman',serif" font-weight="normal">&#956;</tspan>m]</text>
<text transform="translate(1684,71.4) rotate(90)" font-family="'Liberation Serif','Times New Roman',serif" font-weight="bold" font-size="31" textLength="199.7" lengthAdjust="spacingAndGlyphs">Drain Current</text><text transform="translate(1684,281.5) rotate(90)" font-family="'Liberation Sans',Arial,sans-serif" font-weight="bold" font-size="27" textLength="214.7" lengthAdjust="spacingAndGlyphs">(I<tspan font-size="18" dy="6">D</tspan><tspan dy="-6" font-family="'Liberation Serif','Times New Roman',serif">*10</tspan><tspan font-family="'Liberation Serif','Times New Roman',serif" font-size="17" dy="-12">3</tspan><tspan dy="12">)[</tspan><tspan font-family="'Liberation Serif','Times New Roman',serif" font-weight="normal">&#956;</tspan>A/<tspan font-family="'Liberation Serif','Times New Roman',serif" font-weight="normal">&#956;</tspan>m]</text>
<text x="317.8" y="634.5" font-family="'Liberation Serif','Times New Roman',serif" font-weight="bold" font-size="31.5" textLength="295.5" lengthAdjust="spacingAndGlyphs">Gate Voltage <tspan font-family="'Liberation Sans',Arial,sans-serif" font-size="29">(V<tspan font-size="22" dy="12">GS</tspan><tspan dy="-12">)[V]</tspan></tspan></text>
<text x="1155.7" y="639.1" font-family="'Liberation Serif','Times New Roman',serif" font-weight="bold" font-size="31.5" textLength="293" lengthAdjust="spacingAndGlyphs">Gate Voltage <tspan font-family="'Liberation Sans',Arial,sans-serif" font-size="29">(V<tspan font-size="22" dy="12">GS</tspan><tspan dy="-12">)[V]</tspan></tspan></text>
</svg>
</body></html>
